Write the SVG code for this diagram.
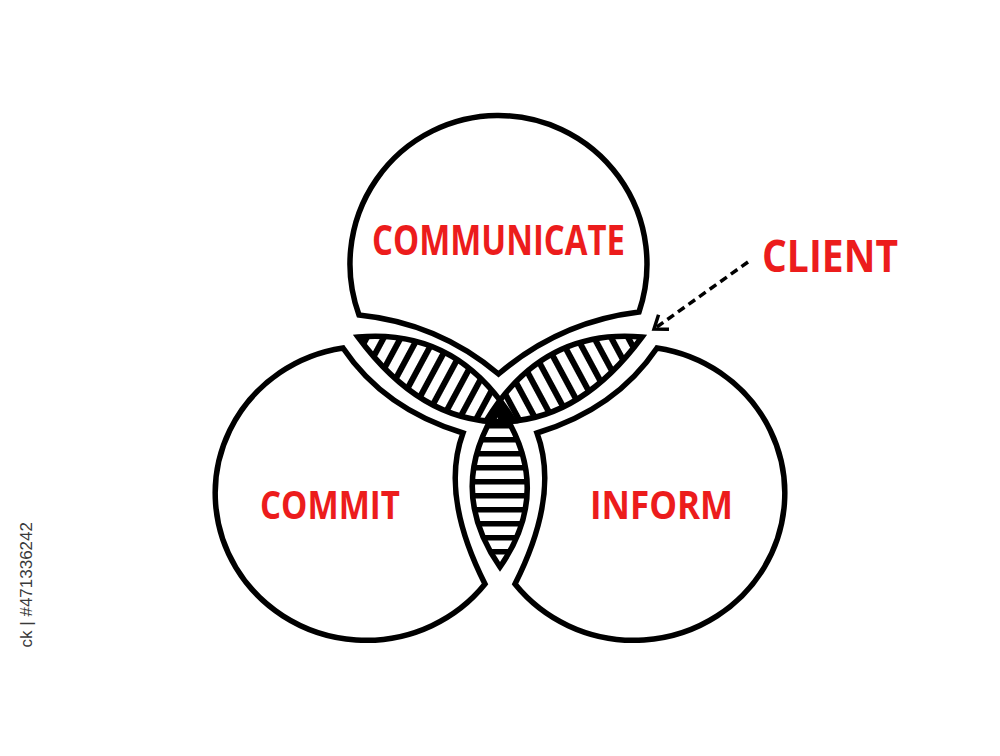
<svg xmlns="http://www.w3.org/2000/svg" width="1000" height="756" viewBox="0 0 1000 756">
<style>
.shape{fill:#fff;stroke:#000;stroke-width:5.5;stroke-linejoin:miter;stroke-miterlimit:6}
.lens{stroke:#000;stroke-width:5.5;stroke-linejoin:miter;stroke-miterlimit:5}
.label{font-family:"Open Sans","Liberation Sans",sans-serif;font-weight:700;fill:#ec1c1c;text-anchor:middle}
.conn{fill:none;stroke:#000;stroke-width:3.5;stroke-dasharray:8 5}
</style>
<defs>
<pattern id="hatchL" width="15" height="10" patternUnits="userSpaceOnUse" patternTransform="rotate(28.3)"><rect x="0" y="0" width="6" height="10" fill="#000"/></pattern>
<pattern id="hatchR" width="15" height="10" patternUnits="userSpaceOnUse" patternTransform="rotate(-28.3)"><rect x="0" y="0" width="6" height="10" fill="#000"/></pattern>
<pattern id="hatchB" width="10" height="14" patternUnits="userSpaceOnUse" patternTransform="translate(0,3)"><rect x="0" y="0" width="10" height="5.5" fill="#000"/></pattern>
<marker id="arrow" markerWidth="22" markerHeight="22" refX="18" refY="11" orient="auto" markerUnits="userSpaceOnUse"><path d="M6,2 L18,11 L6,20" fill="none" stroke="#000" stroke-width="3.5"/></marker>
</defs>
<rect width="1000" height="756" fill="#fff"/>

<g id="communicate">
<path class="shape" d="M359 315 A148.5 148.5 0 1 1 639 312 Q560 321.5 498.5 374 Q438 323 359 315 Z"/>
<text class="label" x="498.5" y="255" font-size="41" textLength="253" lengthAdjust="spacingAndGlyphs">COMMUNICATE</text>
</g>
<g id="commit">
<path class="shape" d="M343 348 A151 147 0 1 0 485 584 Q440 495 463 433 Q384 409 343 348 Z"/>
<text class="label" x="330" y="519" font-size="39" textLength="140" lengthAdjust="spacingAndGlyphs">COMMIT</text>
</g>
<g id="inform">
<path class="shape" d="M657 348 A151 147 0 1 1 515 584 Q560 495 537 433 Q616 409 657 348 Z"/>
<text class="label" x="661.5" y="519" font-size="39" textLength="143" lengthAdjust="spacingAndGlyphs">INFORM</text>
</g>
<g id="lens-communicate-commit">
<path class="lens" fill="url(#hatchL)" d="M358 337 Q458 328 514 421 Q426 429 358 337 Z"/>
</g>
<g id="lens-communicate-inform">
<path class="lens" fill="url(#hatchR)" d="M642 337 Q542 328 486 421 Q574 429 642 337 Z"/>
</g>
<g id="lens-commit-inform">
<path class="lens" fill="url(#hatchB)" d="M499 406 Q445 488 500 567 Q555 488 499 406 Z"/>
</g>
<g id="client">
<text class="label" x="830" y="272" font-size="44" textLength="136" lengthAdjust="spacingAndGlyphs">CLIENT</text>
</g>
<g id="connectors">
<path class="conn" d="M748 262 L654 329" marker-end="url(#arrow)"/>
</g>
<text transform="translate(32,522) rotate(-90)" text-anchor="end" font-family="Liberation Sans, sans-serif" font-size="17" fill="#3a3a3a">ck | #471336242</text>
</svg>
